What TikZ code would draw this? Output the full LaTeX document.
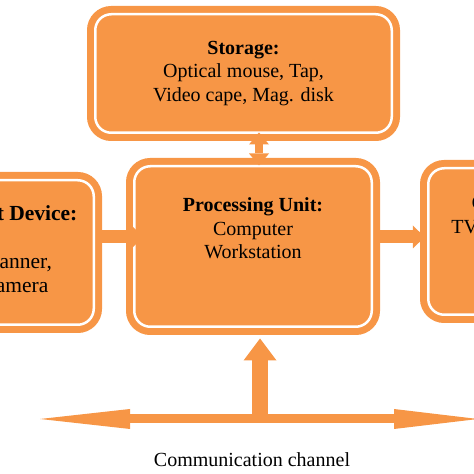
\documentclass[tikz,border=0pt]{standalone}
\usepackage{fontspec}
\setmainfont{Liberation Serif}
\usetikzlibrary{arrows.meta}
\usetikzlibrary{positioning}

\definecolor{boxorange}{HTML}{F79646}

\tikzset{
  unitbox/.style={rectangle, rounded corners=16pt, fill=boxorange, draw=boxorange,
    line width=7pt, double=white, double distance=2.5pt, inner sep=0pt},
  unittext/.style={align=center, inner sep=0pt, font=\fontsize{20}{23.5}\selectfont},
  blockarrow/.style={draw=boxorange},
}

\begin{document}
\begin{tikzpicture}[x=1pt, y=1pt]
    \useasboundingbox (0,0) rectangle (474,474);
    \clip (0,0) rectangle (474,474);

    % boxes
    \node[unitbox, minimum width=296.5pt, minimum height=118.5pt, unittext] (storage) at (243.5,400.5)
        {\textbf{Storage:}\\Optical mouse, Tap,\\Video cape, Mag. disk};
    \node[unitbox, minimum width=237.5pt, minimum height=160.5pt] (proc) at (253,227.5) {};
    \node[unitbox, minimum width=155.5pt, minimum height=144.5pt] (input) at (16,221.5) {};
    \node[unitbox, minimum width=173.5pt, minimum height=146.5pt] (output) at (515,232.5) {};

    \node[unittext, below=35pt of proc.north] (proctext) {\textbf{Processing Unit:}\\Computer\\Workstation};
    \node[unittext, font=\fontsize{21.5}{24}\selectfont, below=29pt of input.north, xshift=-1pt] (inputtext)
        {\textbf{Input Device:}\\[24pt]Scanner,\\Camera};
    \node[unittext, below=31pt of output.north, xshift=22pt] (outputtext) {\textbf{Output Device:}\\TV, Monitor, Printers};

    % arrows between the boxes
    \coordinate (row) at (0,237);
    \coordinate (link) at (259,0);
    \draw[blockarrow, line width=13pt, -{Triangle[width=23pt, length=12pt, line width=0pt]}, shorten >=-12.75pt]
        (input.east |- row) -- (proc.west |- row);
    \draw[blockarrow, line width=13pt, -{Triangle[width=23pt, length=12pt, line width=0pt]}]
        (proc.east |- row) -- (output.west |- row);
    \draw[blockarrow, line width=8pt, {Triangle[width=20pt, length=12pt, line width=0pt]}-{Triangle[width=20pt, length=12pt, line width=0pt]},
        shorten <=-3.75pt, shorten >=-2.75pt] (link |- storage.south) -- (link |- proc.north);

    % channel
    \coordinate (chanL) at (40,55);
    \coordinate (chanR) at (478,55);
    \coordinate (tap) at (260,60);
    \draw[blockarrow, line width=16pt, -{Triangle[width=33pt, length=22pt, line width=0pt]}, shorten >=8.25pt]
        (tap) -- (tap |- proc.south);
    \draw[blockarrow, line width=9pt, {Triangle[width=20pt, length=90pt, line width=0pt]}-{Triangle[width=20pt, length=84pt, line width=0pt]}]
        (chanL) -- (chanR);

    \node[unittext, anchor=base] (chantext) at (252,8) {Communication channel};
\end{tikzpicture}
\end{document}
